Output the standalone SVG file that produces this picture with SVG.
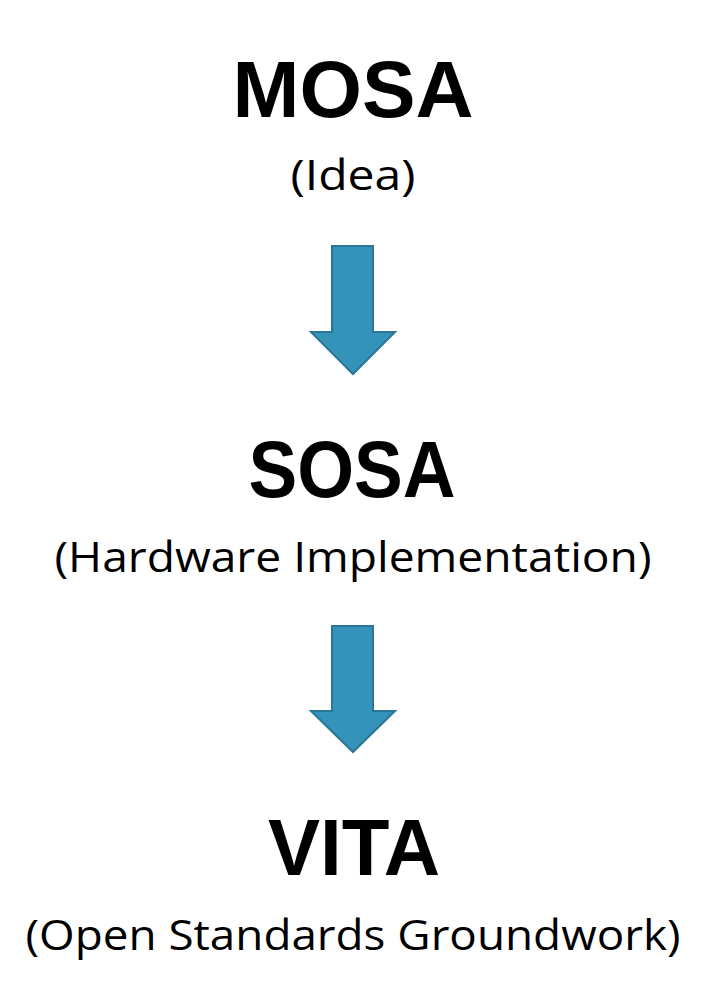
<svg xmlns="http://www.w3.org/2000/svg" width="706" height="1000" viewBox="0 0 706 1000">
<style>
.t{font-family:"Liberation Sans",Arial,sans-serif;font-weight:bold;font-size:80px;fill:#000;text-anchor:middle}
.s{font-family:"Open Sans","Liberation Sans",sans-serif;font-size:42px;fill:#000;text-anchor:middle}
.a{fill:#3592b8;stroke:#2a7697;stroke-width:2}
</style>
<rect width="706" height="1000" fill="#fff"/>
<g id="mosa"><text class="t" x="353" y="117" textLength="241" lengthAdjust="spacingAndGlyphs">MOSA</text><text class="s" x="353" y="190" textLength="125" lengthAdjust="spacingAndGlyphs">(Idea)</text></g>
<g id="sosa"><text class="t" x="352" y="497" textLength="207" lengthAdjust="spacingAndGlyphs">SOSA</text><text class="s" x="353" y="572" textLength="597" lengthAdjust="spacingAndGlyphs">(Hardware Implementation)</text></g>
<g id="vita"><text class="t" x="354" y="875" textLength="172" lengthAdjust="spacingAndGlyphs">VITA</text><text class="s" x="353" y="950" textLength="655" lengthAdjust="spacingAndGlyphs">(Open Standards Groundwork)</text></g>
<g id="connectors">
<path class="a" d="M332,246H373V332H395L353,374L311,332H332Z"/>
<path class="a" d="M332,626H373V711H395L353,752L311,711H332Z"/>
</g>
</svg>
